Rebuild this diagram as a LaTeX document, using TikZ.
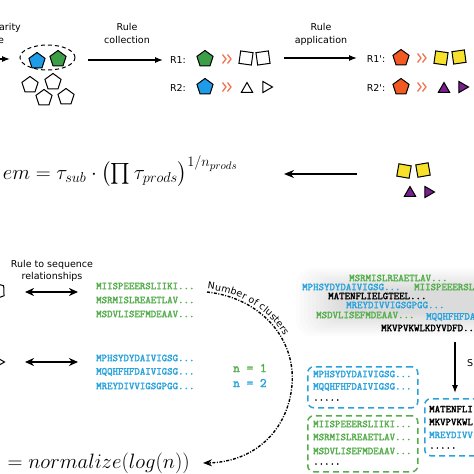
\documentclass[tikz,border=0pt]{standalone}
\usepackage{exscale}
\usepackage{fontspec}
\newfontfamily\lab{DejaVu Sans}
\newfontfamily\seqfont{Latin Modern Mono}[FakeBold=2.2]
\usetikzlibrary{arrows.meta,shapes.geometric,decorations.text}
\definecolor{sgreen}{HTML}{55AE4C}
\definecolor{sblue}{HTML}{2AA3DD}
\definecolor{pgreen}{HTML}{3D9E48}
\definecolor{pblue}{HTML}{1E9CE8}
\definecolor{porange}{HTML}{F25A22}
\definecolor{pyellow}{HTML}{F7E12B}
\definecolor{ppurple}{HTML}{7A1F8E}
\definecolor{chevc}{HTML}{F07552}
\tikzset{
  lbl/.style={font=\lab\fontsize{9.5}{11}\selectfont, inner sep=0pt, anchor=base},
  pent/.style={regular polygon, regular polygon sides=5, minimum size=17pt, inner sep=0pt, draw=black, line width=1pt, fill=white},
  sqr/.style={rectangle, minimum size=12.5pt, inner sep=0pt, draw=black, line width=1pt, fill=white},
  tri/.style={regular polygon, regular polygon sides=3, minimum size=13pt, inner sep=0pt, draw=black, line width=1pt, fill=white},
  trir/.style={tri, shape border rotate=-90},
  seq/.style={font=\seqfont\fontsize{10.4}{12}\selectfont, inner sep=0pt, anchor=west},
  nlab/.style={font=\seqfont\fontsize{13}{15}\selectfont, inner sep=0pt, anchor=west},
  arr/.style={line width=1.2pt, -{Latex[length=8pt,width=6pt]}},
  barr/.style={line width=1.8pt, -{Stealth[length=10pt,width=8pt]}},
  darr/.style={line width=1.6pt, {Stealth[length=9pt,width=8pt]}-{Stealth[length=9pt,width=8pt]}},
  dbox/.style={rectangle, draw, line width=1.5pt, dash pattern=on 6pt off 4pt, rounded corners=6pt, inner sep=0pt, anchor=north west},
  chev/.pic={\draw[chevc, line width=1.3pt] (-4.5,4.5)--(-1,0)--(-4.5,-4.5) (0.5,4.5)--(4,0)--(0.5,-4.5);}
}
\begin{document}
\begin{tikzpicture}[x=1pt,y=1pt]
\useasboundingbox (0,0) rectangle (474,-474);
\clip (0,0) rectangle (474,-474);
\fill[white] (0,0) rectangle (474,-474);

% ---------- top row ----------
\node[lbl] (simA) at (10,-30) {arity};
\node[lbl, anchor=base west] (simB) at (-2,-43) {e};
\coordinate (inA) at (-25,-59);
\coordinate (inB) at (10,-59);
\draw[arr] (inA) -- (inB);
\node[ellipse, draw, line width=1pt, dash pattern=on 4pt off 3pt, minimum width=55pt, minimum height=25pt, inner sep=0pt] (grp) at (47.5,-57.5) {};
\node[pent, fill=pblue] (gb) at (37,-61) {};
\node[pent, fill=pgreen] (gg) at (58,-59) {};
\node[pent] (w1) at (30,-85) {};
\node[pent] (w2) at (53,-82) {};
\node[pent] (w3) at (44,-98) {};
\node[pent] (w4) at (66,-97) {};

\coordinate (c1a) at (88,-60);
\coordinate (c1b) at (163,-60);
\draw[arr] (c1a) -- (c1b);
\node[lbl] (rc1) at (127,-30) {Rule};
\node[lbl] (rc2) at (127,-43) {collection};

\node[lbl] (r1) at (178,-63) {R1:};
\node[lbl] (r2) at (178,-91) {R2:};
\node[pent, fill=pgreen] (r1p) at (205,-59) {};
\node[pent, fill=pblue] (r2p) at (205,-87) {};
\pic (ch1) at (227,-59) {chev};
\pic (ch2) at (227,-87) {chev};
\node[sqr, rotate=-8] (s1) at (246,-58) {};
\node[sqr, rotate=8] (s2) at (263,-58) {};
\node[tri] (t1) at (247,-89) {};
\node[trir] (t2) at (266,-87) {};

\coordinate (c2a) at (284,-58);
\coordinate (c2b) at (357,-58);
\draw[arr] (c2a) -- (c2b);
\node[lbl] (ra1) at (321,-30) {Rule};
\node[lbl] (ra2) at (321,-43) {application};

\node[lbl] (r1b) at (376,-62) {R1':};
\node[lbl] (r2b) at (376,-91) {R2':};
\node[pent, fill=porange] (o1) at (401,-58) {};
\node[pent, fill=porange] (o2) at (401,-87) {};
\pic (ch3) at (422,-58) {chev};
\pic (ch4) at (422,-87) {chev};
\node[sqr, fill=pyellow, rotate=-8] (y1) at (441,-58) {};
\node[sqr, fill=pyellow, rotate=8] (y2) at (459,-57) {};
\node[tri, fill=ppurple] (p1) at (444,-89) {};
\node[trir, fill=ppurple] (p2) at (462,-87) {};

% ---------- middle row ----------
\node[anchor=base east, inner sep=0pt, font=\fontsize{21.5}{26}\selectfont] (eq1) at (238,-179)
  {$em = \tau_{sub}\cdot\bigl(\prod\tau_{prods}\bigr)^{1/n_{prods}}$};
\coordinate (m1) at (357,-174);
\coordinate (m2) at (284,-174);
\draw[barr] (m1) -- (m2);
\node[sqr, fill=pyellow, rotate=-10] (y3) at (404,-171) {};
\node[sqr, fill=pyellow, rotate=10] (y4) at (423,-170) {};
\node[tri, fill=ppurple] (p3) at (410,-193) {};
\node[trir, fill=ppurple] (p4) at (428,-192) {};

% ---------- bottom left ----------
\node[lbl] (rs1) at (52,-267) {Rule to sequence};
\node[lbl] (rs2) at (52,-279) {relationships};
\node[pent, rotate=20] (lp) at (-3,-291) {};
\coordinate (d1a) at (25,-292);
\coordinate (d1b) at (78,-292);
\draw[darr] (d1a) -- (d1b);
\node[trir] (lt) at (-2,-362) {};
\coordinate (d2a) at (25,-362);
\coordinate (d2b) at (78,-362);
\draw[darr] (d2a) -- (d2b);

\node[seq, text=sgreen] (g1) at (96,-286) {MIISPEEERSLIIKI...};
\node[seq, text=sgreen] (g2) at (96,-300) {MSRMISLREAETLAV...};
\node[seq, text=sgreen] (g3) at (96,-314) {MSDVLISEFMDEAAV...};
\node[seq, text=sblue] (b1) at (96,-358) {MPHSYDYDAIVIGSG...};
\node[seq, text=sblue] (b2) at (96,-372) {MQQHFHFDAIVIGSG...};
\node[seq, text=sblue] (b3) at (96,-386) {MREYDIVVIGSGPGG...};

\node[nlab, text=sgreen] (n1) at (233,-368) {n = 1};
\node[nlab, text=sblue] (n2) at (233,-383) {n = 2};

\coordinate (cs) at (207,-292);
\coordinate (ce) at (203,-463);
\draw[line width=1.4pt, dash pattern=on 3pt off 1.5pt on 1pt off 1.5pt, -{Stealth[length=9pt,width=7pt]}]
  (cs) .. controls (262,-298) and (296,-340) .. (292,-385) .. controls (288,-430) and (255,-462) .. (ce);
\path[decorate, decoration={text along path, text align=left, raise=3pt,
  text={|\lab\fontsize{9.5}{11}\selectfont|Number of clusters}}]
  (207,-292) .. controls (262,-298) and (296,-340) .. (292,-385);

\node[anchor=base east, inner sep=0pt, font=\fontsize{20}{24}\selectfont] (eq2) at (190,-468)
  {$= normalize(log(n))$};

% ---------- right side ----------
\foreach \i in {0,...,11}
  \fill[black, opacity=0.011, rounded corners=16pt] ({296+4*\i},{-268-2*\i}) rectangle (500,{-336+2*\i});

\node[seq, text=sgreen] (k1) at (349,-278) {MSRMISLREAETLAV...};
\node[seq, text=sblue] (k2) at (302,-287) {MPHSYDYDAIVIGSG...};
\node[seq, text=sgreen] (k3) at (414,-287) {MIISPEEERSL};
\node[seq, text=black] (k4) at (328,-296) {MATENFLIELGTEEL...};
\node[seq, text=sblue] (k5) at (346,-305) {MREYDIVVIGSGPGG...};
\node[seq, text=sgreen] (k6) at (316,-315) {MSDVLISEFMDEAAV...};
\node[seq, text=sblue] (k7) at (426,-317) {MQQHFHFDA};
\node[seq, text=black] (k8) at (381,-328) {MKVPVKWLKDYVDFD..};

\coordinate (sa) at (455,-342);
\coordinate (sb) at (455,-393);
\draw[arr] (sa) -- (sb);
\node[lbl, anchor=west] (sl) at (467,-363) {S};

\node[dbox, draw=sblue, minimum width=110pt, minimum height=41pt] (bb) at (307,-366) {};
\node[seq, text=sblue] at (313,-374) {MPHSYDYDAIVIGSG...};
\node[seq, text=sblue] at (313,-387) {MQQHFHFDAIVIGSG...};
\node[seq, text=black] at (313,-400) {.....};

\node[dbox, draw=sgreen, minimum width=110pt, minimum height=56pt] (gb2) at (307,-415) {};
\node[seq, text=sgreen] at (313,-424) {MIISPEEERSLIIKI...};
\node[seq, text=sgreen] at (313,-437) {MSRMISLREAETLAV...};
\node[seq, text=sgreen] at (313,-451) {MSDVLISEFMDEAAV...};
\node[seq, text=black] at (313,-464) {.....};

\node[dbox, draw=sblue, minimum width=70pt, minimum height=57pt] (rb) at (424,-398) {};
\node[seq, text=black] at (429,-409) {MATENFLI};
\node[seq, text=black] at (429,-422) {MKVPVKWL};
\node[seq, text=sblue] at (429,-435) {MREYDIVV};
\node[seq, text=black] at (429,-448) {.....};
\end{tikzpicture}
\end{document}
